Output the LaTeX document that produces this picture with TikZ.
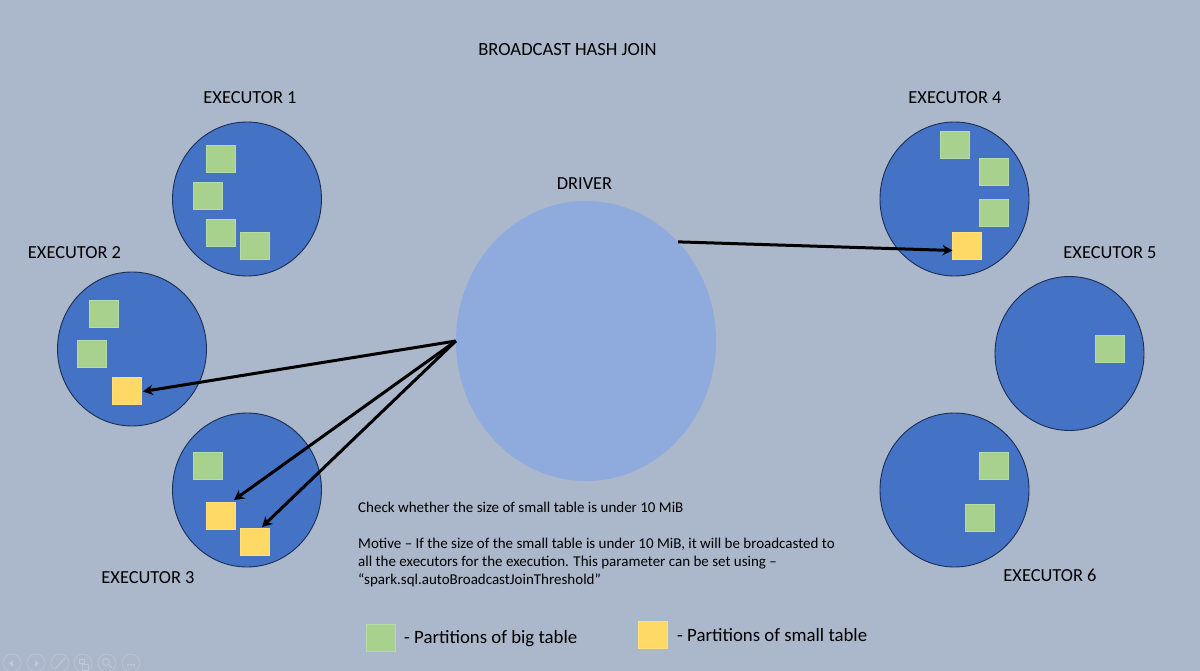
\documentclass[tikz,border=0pt]{standalone}
\usepackage{fontspec}
\setmainfont{Carlito}
\usetikzlibrary{shapes.geometric,arrows.meta}
\definecolor{bgc}{HTML}{ABB7CA}
\definecolor{execfill}{HTML}{4472C4}
\definecolor{execline}{HTML}{1B2E52}
\definecolor{drv}{HTML}{8FAADC}
\definecolor{grn}{HTML}{A9D18E}
\definecolor{yel}{HTML}{FFD966}
\definecolor{iconc}{HTML}{BEC8D7}
\tikzset{
  x=1pt,y=-1pt,
  execnode/.style={ellipse,draw=execline,line width=0.9pt,fill=execfill,minimum width=149pt,minimum height=154pt,inner sep=0pt},
  drivernode/.style={ellipse,fill=drv,minimum width=260pt,minimum height=280pt,inner sep=0pt},
  bigpart/.style={rectangle,fill=grn,draw=grn!80!white,line width=0.5pt,minimum width=29pt,minimum height=27pt,inner sep=0pt},
  smallpart/.style={rectangle,fill=yel,draw=yel!85!white,line width=0.5pt,minimum width=29pt,minimum height=27pt,inner sep=0pt},
  lab/.style={font=\fontsize{18.4}{22}\selectfont,text=black,inner sep=0pt},
  titlelab/.style={font=\fontsize{18.6}{22}\selectfont,text=black,inner sep=0pt},
  body/.style={font=\fontsize{15}{18}\selectfont,text=black,inner sep=0pt,align=left},
  legendtxt/.style={font=\fontsize{18.8}{22}\selectfont,text=black,inner sep=0pt},
  sendarrow/.style={draw=black,line width=3pt,-{Stealth[length=10pt,width=10.5pt]}},
  toolicon/.style={circle,draw=iconc,line width=0.5pt,minimum size=18pt,inner sep=0pt},
}
\begin{document}
\begin{tikzpicture}
\path[use as bounding box,fill=bgc] (0,0) rectangle (1200,671);

\node[titlelab] (title) at (567.5,50) {BROADCAST HASH JOIN};
\node[lab] (l1) at (250,98) {EXECUTOR 1};
\node[lab] (l2) at (74.5,253) {EXECUTOR 2};
\node[lab] (l3) at (148,577.5) {EXECUTOR 3};
\node[lab] (l4) at (955,98) {EXECUTOR 4};
\node[lab] (l5) at (1110,253) {EXECUTOR 5};
\node[lab] (l6) at (1050,575.5) {EXECUTOR 6};
\node[lab] (ld) at (584.5,184) {DRIVER};

\node[execnode] (e1) at (247,199) {};
\node[execnode] (e2) at (132,349) {};
\node[execnode] (e3) at (247,490) {};
\node[execnode] (e4) at (954.5,199) {};
\node[execnode] (e5) at (1069.5,353.5) {};
\node[execnode] (e6) at (954.5,490) {};
\node[drivernode] (driver) at (586,341) {};

\node[bigpart] (a1) at (221,158.5) {};
\node[bigpart] (a2) at (207.5,195.5) {};
\node[bigpart] (a3) at (221,233) {};
\node[bigpart] (a4) at (255,246) {};
\node[bigpart] (b1) at (103.5,314) {};
\node[bigpart] (b2) at (91.5,354) {};
\node[smallpart] (b3) at (127,390.5) {};
\node[bigpart] (c1) at (207.5,465.5) {};
\node[smallpart] (c2) at (221,516) {};
\node[smallpart] (c3) at (254.5,542) {};
\node[bigpart] (d1) at (954.5,145) {};
\node[bigpart] (d2) at (994,172) {};
\node[bigpart] (d3) at (994,213) {};
\node[smallpart] (d4) at (967,246) {};
\node[bigpart] (f1) at (1109.5,349) {};
\node[bigpart] (g1) at (994,465.5) {};
\node[bigpart] (g2) at (979.5,518) {};

\coordinate (tipb) at (143,391.5);
\coordinate (tipc) at (234,500);
\coordinate (tipd) at (262,527);
\coordinate (tipe) at (952.5,250.5);
\draw[sendarrow] (driver.west) -- (tipb);
\draw[sendarrow] (driver.west) -- (tipc);
\draw[sendarrow] (driver.west) -- (tipd);
\draw[sendarrow] (driver.north east) -- (tipe);

\node[body,anchor=north west] (note) at (358,501.5) {Check whether the size of small table is under 10 MiB\\[18pt]Motive – If the size of the small table is under 10 MiB, it will be broadcasted to\\all the executors for the execution. This parameter can be set using –\\“spark.sql.autoBroadcastJoinThreshold”};

\node[bigpart] (kb) at (380.5,638) {};
\node[legendtxt,anchor=west] (kbt) at (404,639) {- Partitions of big table};
\node[smallpart] (ky) at (653,635) {};
\node[legendtxt,anchor=west] (kyt) at (677,635) {- Partitions of small table};

\node[toolicon] (t1) at (12,663) {};
\node[toolicon] (t2) at (36,663) {};
\node[toolicon] (t3) at (60,663) {};
\node[toolicon] (t4) at (83,663) {};
\node[toolicon] (t5) at (107,663) {};
\node[toolicon] (t6) at (131,663) {};
\fill[iconc] (9,663.5) -- (13,660) -- (13,667) -- cycle;
\fill[iconc] (39,663.5) -- (35,660) -- (35,667) -- cycle;
\draw[iconc,line width=1pt] (55,669) -- (65,658);
\draw[iconc,line width=0.8pt] (79,659) rectangle (84,663) (82,664) rectangle (88,670);
\draw[iconc,line width=0.8pt] (106,662) circle (3.5pt) (108.5,664.5) -- (112,668);
\fill[iconc] (127,664) rectangle (129,665.5) (130,664) rectangle (132,665.5) (133,664) rectangle (135,665.5);
\end{tikzpicture}
\end{document}
